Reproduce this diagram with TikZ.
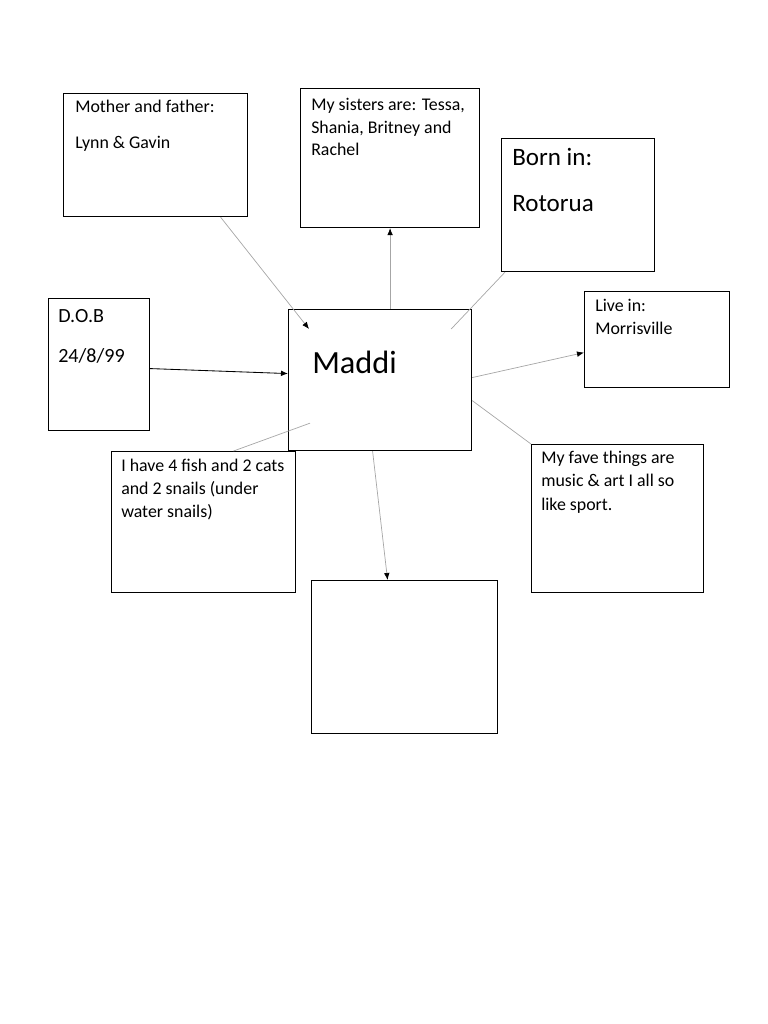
\documentclass[tikz,border=0pt]{standalone}
\usepackage{fontspec}
\setmainfont{Carlito}
\usetikzlibrary{arrows.meta}

\newcommand{\cardtext}[3]{\parbox[t]{6cm}{\fontsize{#1}{#2}\selectfont #3}}

\begin{document}
\begin{tikzpicture}[
  x=0.025cm, y=-0.025cm,
  card/.style = {draw, line width=0.8pt, anchor=north west, inner sep=0pt},
  txt/.style = {anchor=base west, inner sep=0pt},
  link/.style = {gray!70, line width=0.5pt},
  linkarr/.style = {link, -{Latex[color=black, length=5pt, width=4pt]}},
]
\useasboundingbox (0,0) rectangle (768,1024);

%% ── Boxes ────────────────────────────────────────────────────────────────────
\node[card, minimum width=4.6cm,   minimum height=3.075cm] (mother)  at (63,93)   {};
\node[card, minimum width=4.475cm, minimum height=3.475cm] (sisters) at (300,88)  {};
\node[card, minimum width=3.825cm, minimum height=3.325cm] (born)    at (501,138) {};
\node[card, minimum width=2.525cm, minimum height=3.3cm]   (dob)     at (48,298)  {};
\node[card, minimum width=4.575cm, minimum height=3.525cm] (maddi)   at (288,309) {};
\node[card, minimum width=3.625cm, minimum height=2.4cm]   (live)    at (584,291) {};
\node[card, minimum width=4.6cm,   minimum height=3.525cm] (pets)    at (111,451) {};
\node[card, minimum width=4.3cm,   minimum height=3.7cm]   (fave)    at (531,444) {};
\node[card, minimum width=4.65cm,  minimum height=3.825cm] (empty)   at (311,580) {};

%% ── Texts ────────────────────────────────────────────────────────────────────
\node[txt] (motherTxt) at ([shift={(12,20)}]mother.north west)
  {\cardtext{12.7}{24.9}{Mother and father:\\Lynn \& Gavin}};
\node[txt] (sistersTxt) at ([shift={(11,23)}]sisters.north west)
  {\cardtext{12.7}{16}{My sisters are: Tessa,\\Shania, Britney and\\Rachel}};
\node[txt] (bornTxt) at ([shift={(11,28)}]born.north west)
  {\cardtext{17.8}{32.7}{Born in:\\Rotorua}};
\node[txt] (dobTxt) at ([shift={(10,24)}]dob.north west)
  {\cardtext{14.3}{28.5}{D.O.B\\24/8/99}};
\node[txt, font=\fontsize{23}{28}\selectfont] (maddiTxt)
  at ([shift={(24,64)}]maddi.north west) {Maddi};
\node[txt] (liveTxt) at ([shift={(11,20)}]live.north west)
  {\cardtext{12.7}{16.4}{Live in:\\Morrisville}};
\node[txt] (petsTxt) at ([shift={(10,20)}]pets.north west)
  {\cardtext{12.7}{16.4}{I have 4 fish and 2 cats\\and 2 snails (under\\water snails)}};
\node[txt] (faveTxt) at ([shift={(10,19)}]fave.north west)
  {\cardtext{12.7}{17}{My fave things are\\music \& art I all so\\like sport.}};

%% ── Connectors ───────────────────────────────────────────────────────────────
\draw[linkarr] ([shift={(65,0)}]mother.south) -- ([shift={(21,20)}]maddi.north west);
\draw[linkarr] (maddi.north -| sisters.south) -- (sisters.south);
\draw[link] ([shift={(4,0)}]born.south west) -- ([shift={(-21,20)}]maddi.north east);
\draw[-{Latex[length=5pt, width=4pt]}, line width=0.6pt]
  ([shift={(0,4)}]dob.east) -- ([shift={(0,-6.5)}]maddi.west);
\draw[linkarr] ([shift={(0,-2.5)}]maddi.east) -- ([shift={(0,13)}]live.west);
\draw[link] ([shift={(0,20.5)}]maddi.east) -- (fave.north west);
\draw[link] ([shift={(30,0)}]pets.north) -- ([shift={(22,-28)}]maddi.south west);
\draw[linkarr] ([shift={(-7.5,0)}]maddi.south) -- ([shift={(-17,0)}]empty.north);

\end{tikzpicture}
\end{document}
